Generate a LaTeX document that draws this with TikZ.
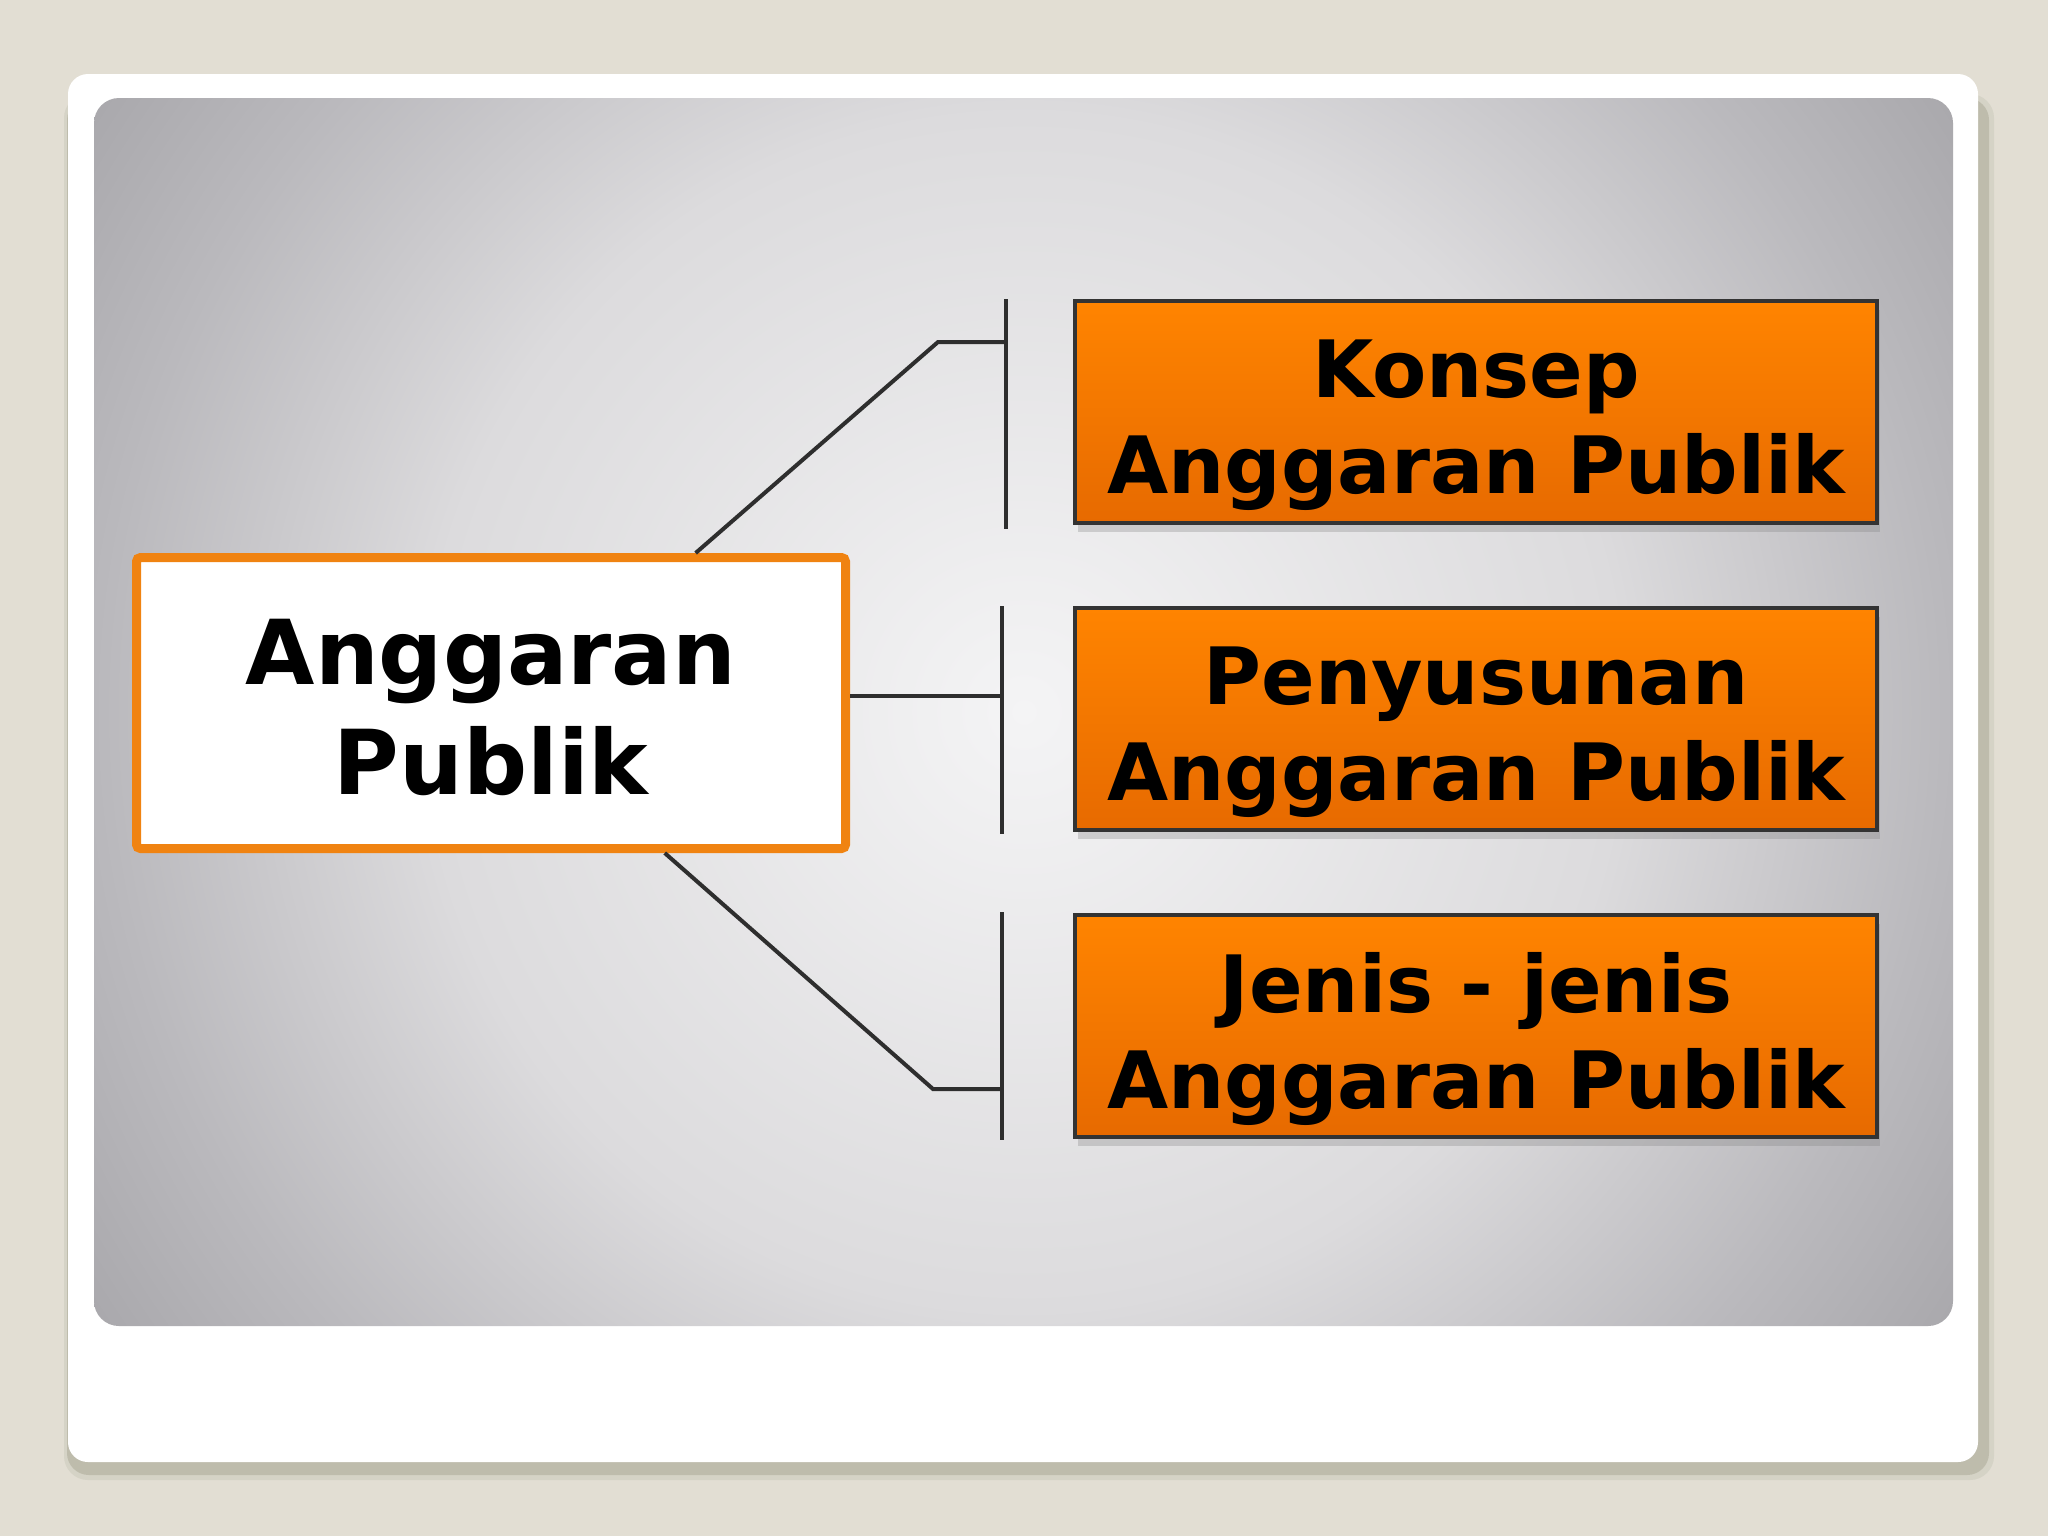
\documentclass[tikz,border=0pt]{standalone}
\usepackage{fontspec}
\setmainfont{DejaVu Sans}
\usepackage{tikz}
\usetikzlibrary{calc,shadows}

\definecolor{beige}{HTML}{E2DED3}
\definecolor{cardshadeA}{HTML}{D5D3C6}
\definecolor{cardshadeB}{HTML}{BEBCAC}
\definecolor{panelhi}{HTML}{F4F4F5}
\definecolor{panelmid}{HTML}{DCDBDD}
\definecolor{panelside}{HTML}{BAB9BD}
\definecolor{panello}{HTML}{A8A7AB}
\definecolor{orangetop}{HTML}{FF8400}
\definecolor{orangebot}{HTML}{E76A00}
\definecolor{hubline}{HTML}{F08311}
\definecolor{boxline}{HTML}{333333}
\definecolor{linkgray}{HTML}{2E2E2E}

\pgfdeclareradialshading{panelglow}{\pgfpoint{0bp}{0bp}}{color(0bp)=(panelhi); color(13bp)=(panelmid); color(20bp)=(panelside); color(24.5bp)=(panello); color(50bp)=(panello)}

\begin{document}
\begin{tikzpicture}[x=0.1mm,y=-0.1mm]
  \tikzstyle{hub}=[rectangle,draw=hubline,line width=0.9mm,fill=white,rounded corners=0.4mm,minimum width=70.9mm,minimum height=29.1mm]
  \tikzstyle{leaf}=[rectangle,draw=boxline,line width=0.45mm,top color=orangetop,bottom color=orangebot,minimum width=80.2mm,minimum height=22.2mm,drop shadow={shadow xshift=0.3mm,shadow yshift=-0.9mm,opacity=0.3}]
  \tikzstyle{hubtext}=[font=\fontsize{25.5}{31.3}\selectfont\bfseries,align=center]
  \tikzstyle{leaftext}=[font=\fontsize{22.5}{27.3}\selectfont\bfseries,align=center]
  \tikzstyle{link}=[draw=linkgray,line width=0.4mm]

  \useasboundingbox (0,0) rectangle (2048,1536);
  \fill[beige] (0,0) rectangle (2048,1536);
  \fill[cardshadeA,rounded corners=2.4mm] (64,94) rectangle (1994,1480);
  \fill[cardshadeB,rounded corners=2.2mm] (67,98) rectangle (1989,1475);
  \fill[white,rounded corners=2mm] (68,74) rectangle (1978,1462);
  \begin{scope}
    \clip[rounded corners=2.5mm] (94,98) rectangle (1953,1326);
    \shade[shading=panelglow] (-126,-438) rectangle (2174,1862);
  \end{scope}

  \node[hub] (hub) at (491,703) {};
  \node[hubtext] (hubT) at (491,707) {Anggaran\\Publik};

  \node[leaf] (konsep) at (1476,412) {};
  \node[leaftext] (konsepT) at (1476,425) {Konsep\\Anggaran Publik};
  \node[leaf] (susun) at (1476,719) {};
  \node[leaftext] (susunT) at (1476,732) {Penyusunan\\Anggaran Publik};
  \node[leaf] (jenis) at (1476,1026) {};
  \node[leaftext] (jenisT) at (1476,1039) {Jenis - jenis\\Anggaran Publik};

  \coordinate (bar1a) at (1006,299);
  \coordinate (bar1b) at (1006,529);
  \coordinate (bar2a) at (1002,606);
  \coordinate (bar2b) at (1002,834);
  \coordinate (bar3a) at (1002,912);
  \coordinate (bar3b) at (1002,1140);
  \coordinate (elb1) at (938,342);
  \coordinate (elb2) at ($(hub.east)+(0,-7)$);
  \coordinate (elb3) at (933,1089);

  \draw[link] ($(hub.north west)!0.785!(hub.north east)$) -- (elb1) -- (elb1 -| bar1a);
  \draw[link] (bar1a) -- (bar1b);
  \draw[link] (elb2) -- (elb2 -| bar2a);
  \draw[link] (bar2a) -- (bar2b);
  \draw[link] ($(hub.south west)!0.742!(hub.south east)$) -- (elb3) -- (elb3 -| bar3a);
  \draw[link] (bar3a) -- (bar3b);
\end{tikzpicture}
\end{document}
